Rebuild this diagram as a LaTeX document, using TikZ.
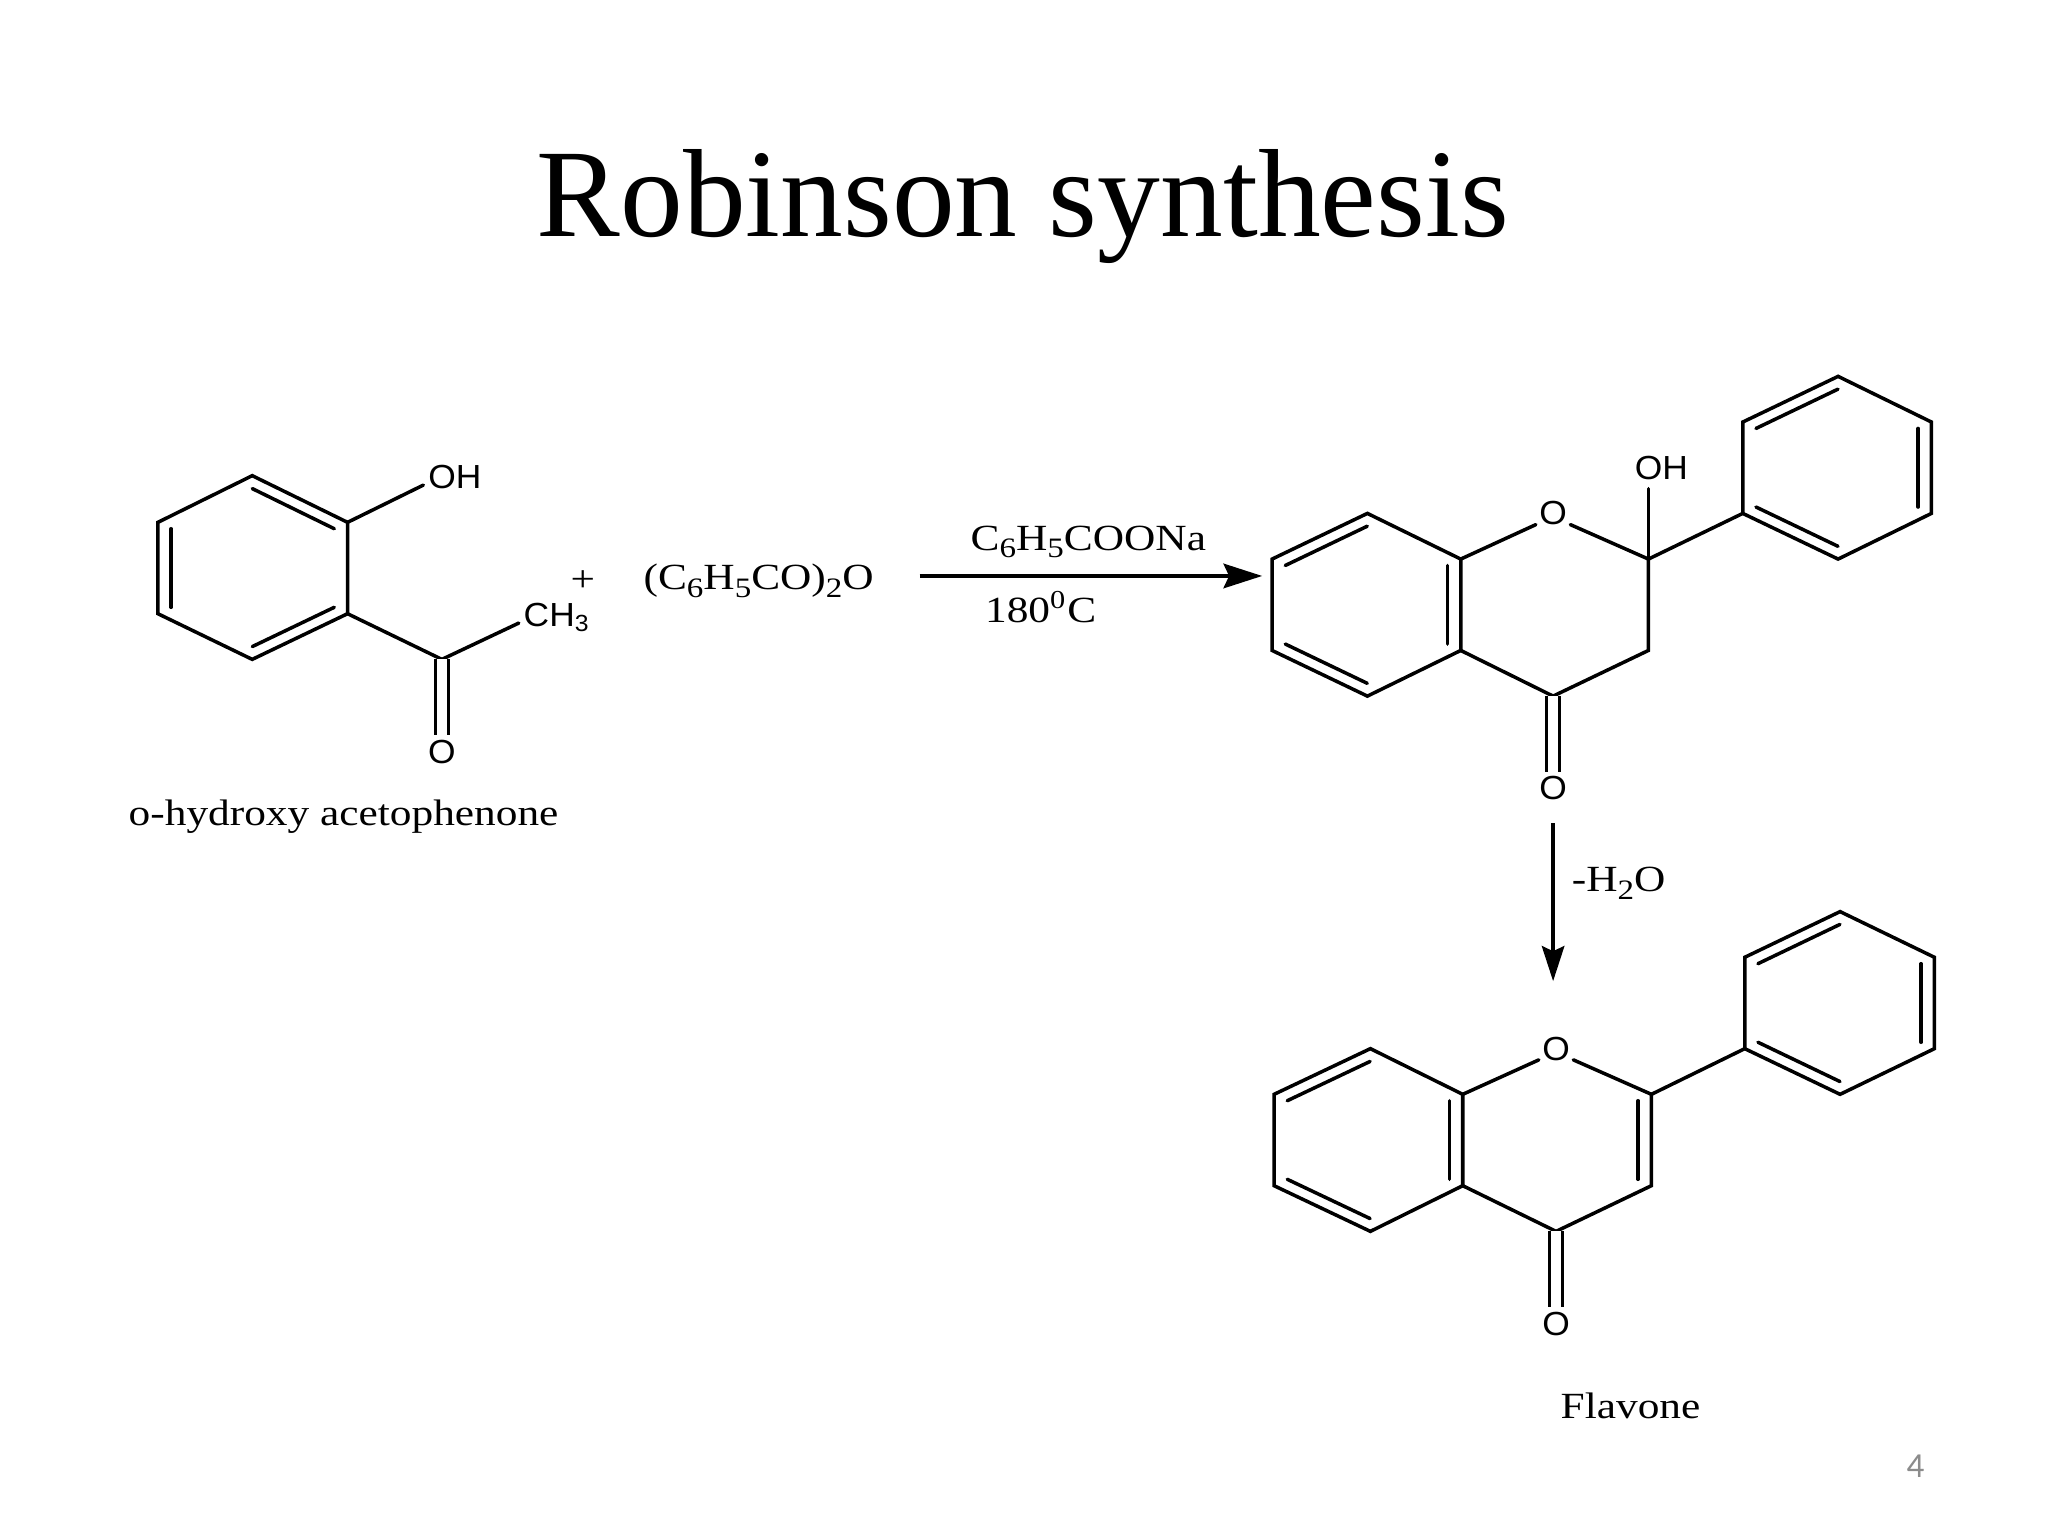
\documentclass[tikz,border=0pt]{standalone}
\usepackage{fontspec}
\usepackage{graphicx}
\setmainfont{Liberation Serif}
\newfontfamily\atomfont{Liberation Sans}
\newfontfamily\pagefont{Carlito}
\usetikzlibrary{calc,arrows.meta}
\newcommand{\sx}[1]{\scalebox{1.175}[1]{#1}}
\newcommand{\ax}[1]{\scalebox{1.06}[1]{\atomfont #1}}
\newcommand{\lsub}[1]{\raisebox{-0.45ex}{\fontsize{8}{9}\selectfont #1}}
\tikzset{
  bond/.style={line width=1pt,line cap=round,line join=miter,black},
  cobond/.style={line width=1pt,double,double distance=2.7pt,black},
  rarrow/.style={line width=1pt,-{Stealth[length=11pt,width=7pt,inset=1.6pt]}},
  darrow/.style={line width=1pt,-{Stealth[length=10pt,width=6.4pt,inset=1.5pt]}},
  atom/.style={inner sep=1.2pt,font=\fontsize{9.5}{11}\selectfont},
  ringo/.style={atom,circle,inner sep=0pt,minimum size=11.3pt},
  label/.style={inner sep=0pt,anchor=base,font=\fontsize{10.5}{12}\selectfont},
}
\newcommand{\inbond}[3]{\draw[bond] ($(#1)!0.14!(#3)$) -- ($(#2)!0.14!(#3)$);}
\begin{document}
\begin{tikzpicture}[x=0.00993cm,y=-0.00993cm]
\useasboundingbox (0,0) rectangle (2062.4,1546.8);
\fill[white] (0,0) rectangle (2062.4,1546.8);

\node[inner sep=0pt,anchor=base,font=\fontsize{35.7}{40}\selectfont] (title) at (1030,238) {Robinson synthesis};

% o-hydroxy acetophenone
\coordinate (a1) at (254,479);
\coordinate (a2) at (350,526);
\coordinate (a3) at (350,618);
\coordinate (a4) at (254,664);
\coordinate (a5) at (159,618);
\coordinate (a6) at (159,526);
\coordinate (ac) at (254.5,572);
\coordinate (ak) at (445,664);
\node[atom] (aoh) at (458,480) {\ax{OH}};
\node[atom] (ach) at (561,622) {\ax{CH\textsubscript{3}}};
\node[atom] (ao) at (445,757) {\ax{O}};
\draw[bond] (a1)--(a2)--(a3)--(a4)--(a5)--(a6)--cycle;
\inbond{a1}{a2}{ac}
\inbond{a3}{a4}{ac}
\inbond{a5}{a6}{ac}
\draw[bond] (a2)--(aoh.195);
\draw[bond] (a3)--(ak)--(ach.188);
\draw[cobond] (ak)--(ao.north);
\node[label] (aname) at (346,831) {\sx{o-hydroxy acetophenone}};

\node[inner sep=0pt,font=\fontsize{10.5}{12}\selectfont] (plus) at (587,585) {\sx{+}};
\node[label] (anh) at (764,594) {\sx{(C\lsub{6}H\lsub{5}CO)\lsub{2}O}};

% reaction arrow
\coordinate (r1s) at (926,580);
\coordinate (r1e) at (1271,580);
\draw[rarrow] (r1s)--(r1e);
\node[label] (cat) at (1096,554) {\sx{C\lsub{6}H\lsub{5}COONa}};
\node[label] (temp) at (1048,627) {\sx{180\textsuperscript{0}C}};

% hydroxy flavanone
\coordinate (b1) at (1377,517);
\coordinate (b2) at (1471,563);
\coordinate (b3) at (1471,655);
\coordinate (b4) at (1377,701);
\coordinate (b5) at (1281,655);
\coordinate (b6) at (1281,563);
\coordinate (bc) at (1376,609);
\node[ringo] (bo) at (1564,517) {\ax{O}};
\coordinate (b7) at (1660,563);
\coordinate (b8) at (1660,655);
\coordinate (b9) at (1564,701);
\coordinate (p1) at (1755,517);
\coordinate (p2) at (1755,425);
\coordinate (p3) at (1851,379);
\coordinate (p4) at (1945,425);
\coordinate (p5) at (1945,517);
\coordinate (p6) at (1851,563);
\coordinate (pc) at (1850,471);
\node[atom] (boh) at (1673,471) {\ax{OH}};
\node[atom] (bko) at (1564,794) {\ax{O}};
\draw[bond] (b1)--(b2)--(b3)--(b4)--(b5)--(b6)--cycle;
\inbond{b1}{b6}{bc}
\inbond{b2}{b3}{bc}
\inbond{b4}{b5}{bc}
\draw[bond] (b2)--(bo.213);
\draw[bond] (bo.327)--(b7)--(b8)--(b9)--(b3);
\draw[cobond] (b9)--(bko.north);
\draw[bond,shorten >=1.2pt] (b7)--(b7 |- boh.south);
\draw[bond] (b7)--(p1);
\draw[bond] (p1)--(p2)--(p3)--(p4)--(p5)--(p6)--cycle;
\inbond{p2}{p3}{pc}
\inbond{p4}{p5}{pc}
\inbond{p6}{p1}{pc}

% second arrow
\coordinate (r2s) at (1564,829);
\coordinate (r2e) at (1564,988);
\draw[darrow] (r2s)--(r2e);
\node[label] (water) at (1630,898) {\sx{-H\lsub{2}O}};

% flavone
\coordinate (c1) at (1380,1056);
\coordinate (c2) at (1473,1102);
\coordinate (c3) at (1473,1194);
\coordinate (c4) at (1380,1240);
\coordinate (c5) at (1283,1194);
\coordinate (c6) at (1283,1102);
\coordinate (cc) at (1378,1148);
\node[ringo] (co) at (1567,1056) {\ax{O}};
\coordinate (c7) at (1663,1102);
\coordinate (c8) at (1663,1194);
\coordinate (c9) at (1567,1240);
\coordinate (cq) at (1567,1148);
\coordinate (q1) at (1757,1056);
\coordinate (q2) at (1757,964);
\coordinate (q3) at (1853,918);
\coordinate (q4) at (1948,964);
\coordinate (q5) at (1948,1056);
\coordinate (q6) at (1853,1102);
\coordinate (qc) at (1852,1010);
\node[atom] (cko) at (1567,1333) {\ax{O}};
\draw[bond] (c1)--(c2)--(c3)--(c4)--(c5)--(c6)--cycle;
\inbond{c1}{c6}{cc}
\inbond{c2}{c3}{cc}
\inbond{c4}{c5}{cc}
\draw[bond] (c2)--(co.213);
\draw[bond] (co.327)--(c7)--(c8)--(c9)--(c3);
\inbond{c7}{c8}{cq}
\draw[cobond] (c9)--(cko.north);
\draw[bond] (c7)--(q1);
\draw[bond] (q1)--(q2)--(q3)--(q4)--(q5)--(q6)--cycle;
\inbond{q2}{q3}{qc}
\inbond{q4}{q5}{qc}
\inbond{q6}{q1}{qc}
\node[label] (fname) at (1642,1428) {\sx{Flavone}};

\node[inner sep=0pt,text=black!45,font=\pagefont\fontsize{10}{11}\selectfont] (pnum) at (1929,1476) {4};
\end{tikzpicture}
\end{document}
